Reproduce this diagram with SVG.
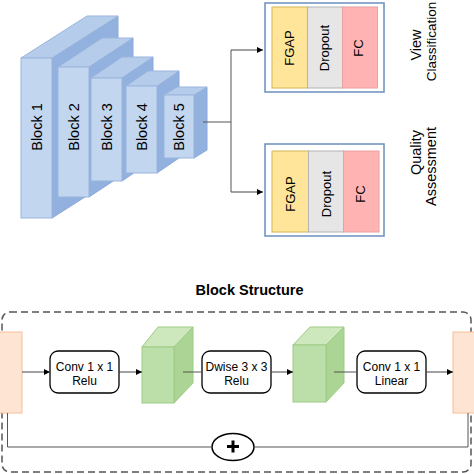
<svg xmlns="http://www.w3.org/2000/svg" width="474" height="474" viewBox="0 0 474 474">
<style>
text{font-family:"Liberation Sans",Arial,sans-serif;fill:#000}
.bf{fill:#c3d6ef;stroke:#9ab5dd;stroke-width:1}
.bt{fill:#b6cceb;stroke:#9ab5dd;stroke-width:1}
.bs{fill:#93b1df;stroke:#8aa9d8;stroke-width:1}
.bl{font-size:14.5px}
.gf{fill:#bcdfa9;stroke:#9ccc84;stroke-width:1}
.gt{fill:#cde8bd;stroke:#9ccc84;stroke-width:1}
.gs{fill:#acd494;stroke:#9ccc84;stroke-width:1}
.outer{fill:#fff;stroke:#6c8ebf;stroke-width:1.5}
.fgap{fill:#ffe599;stroke:#d6b656;stroke-width:1}
.drop{fill:#e6e6e6;stroke:#b3b3b3;stroke-width:1}
.fc{fill:#ffb3b3;stroke:#e8a0a0;stroke-width:1}
.cell{font-size:13px}
.lab{font-size:14.5px}
.op{fill:#fff;stroke:#000;stroke-width:1.3}
.opt{font-size:12px}
.orange{fill:#fde4d3;stroke:#f6c09a;stroke-width:1}
.ln{fill:none;stroke:#555;stroke-width:1}
.arr{fill:none;stroke:#444;stroke-width:1;marker-end:url(#ah)}
</style>
<defs>
<marker id="ah" viewBox="0 0 10 10" refX="10" refY="5" markerWidth="6" markerHeight="6" markerUnits="userSpaceOnUse" orient="auto">
<path d="M0,0 L10,5 L0,10 z" fill="#000"/>
</marker>
</defs>

<g id="block1">
<polygon class="bs" points="52,58 118,16 118,176 52,218"/>
<polygon class="bt" points="21,58 87,16 118,16 52,58"/>
<rect class="bf" x="21" y="58" width="31" height="160"/>
<text class="bl" text-anchor="middle" transform="translate(41.5,127) rotate(-90)">Block 1</text>
</g>
<g id="block2">
<polygon class="bs" points="89,67 133,38 133,168 89,197"/>
<polygon class="bt" points="58,67 102,38 133,38 89,67"/>
<rect class="bf" x="58" y="67" width="31" height="130"/>
<text class="bl" text-anchor="middle" transform="translate(78.5,127) rotate(-90)">Block 2</text>
</g>
<g id="block3">
<polygon class="bs" points="122,78 153,57 153,160 122,181"/>
<polygon class="bt" points="91,78 122,57 153,57 122,78"/>
<rect class="bf" x="91" y="78" width="31" height="103"/>
<text class="bl" text-anchor="middle" transform="translate(111.5,127) rotate(-90)">Block 3</text>
</g>
<g id="block4">
<polygon class="bs" points="157,86 179,71 179,158 157,173"/>
<polygon class="bt" points="126,86 148,71 179,71 157,86"/>
<rect class="bf" x="126" y="86" width="31" height="87"/>
<text class="bl" text-anchor="middle" transform="translate(146.5,127) rotate(-90)">Block 4</text>
</g>
<g id="block5">
<polygon class="bs" points="194,95 207,87 207,150 194,158"/>
<polygon class="bt" points="164,95 177,87 207,87 194,95"/>
<rect class="bf" x="164" y="95" width="30" height="63"/>
<text class="bl" text-anchor="middle" transform="translate(184,127) rotate(-90)">Block 5</text>
</g>

<g id="head-view">
<rect class="outer" x="265" y="3" width="119" height="89"/>
<rect class="fgap" x="272" y="7" width="35.5" height="81"/>
<rect class="drop" x="307.5" y="7" width="35" height="81"/>
<rect class="fc" x="342.5" y="7" width="35" height="81"/>
<text class="cell" text-anchor="middle" transform="translate(294,48) rotate(-90)">FGAP</text>
<text class="cell" text-anchor="middle" transform="translate(329,48) rotate(-90)">Dropout</text>
<text class="cell" text-anchor="middle" transform="translate(363,48) rotate(-90)">FC</text>
</g>
<g id="head-quality">
<rect class="outer" x="265" y="144" width="119" height="92"/>
<rect class="fgap" x="272" y="151" width="36.5" height="81"/>
<rect class="drop" x="308.5" y="151" width="35" height="81"/>
<rect class="fc" x="343.5" y="151" width="35.5" height="81"/>
<text class="cell" text-anchor="middle" transform="translate(295,194) rotate(-90)">FGAP</text>
<text class="cell" text-anchor="middle" transform="translate(330.5,194) rotate(-90)">Dropout</text>
<text class="cell" text-anchor="middle" transform="translate(365,194) rotate(-90)">FC</text>
</g>
<g id="label-view">
<text class="lab" text-anchor="middle" transform="translate(421,45) rotate(-90)">View</text>
<text class="lab" text-anchor="middle" font-size="13.5" style="font-size:13.5px" transform="translate(436,41.5) rotate(-90)">Classification</text>
</g>
<g id="label-quality">
<text class="lab" text-anchor="middle" transform="translate(421,152.5) rotate(-90)">Quality</text>
<text class="lab" text-anchor="middle" transform="translate(436,166.5) rotate(-90)">Assessment</text>
</g>

<g id="title">
<text x="249.5" y="295" text-anchor="middle" font-size="14.5" font-weight="bold">Block Structure</text>
</g>
<g id="frame">
<rect x="2" y="312" width="469" height="160" rx="8" fill="none" stroke="#555" stroke-width="1.5" stroke-dasharray="7,4"/>
</g>

<g id="input">
<rect class="orange" x="-5" y="332" width="27" height="81"/>
</g>
<g id="conv1">
<rect class="op" x="50" y="351" width="69" height="42" rx="8"/>
<text class="opt" x="84.5" y="371" text-anchor="middle">Conv 1 x 1</text>
<text class="opt" x="84.5" y="384.5" text-anchor="middle">Relu</text>
</g>
<g id="feat1">
<polygon class="gs" points="174,347 193,327 193,383 174,403"/>
<polygon class="gt" points="142,347 158,327 193,327 174,347"/>
<rect class="gf" x="142" y="347" width="32" height="56"/>
</g>
<g id="dwise">
<rect class="op" x="202" y="351" width="69" height="42" rx="8"/>
<text class="opt" x="236.5" y="371" text-anchor="middle">Dwise 3 x 3</text>
<text class="opt" x="236.5" y="384.5" text-anchor="middle">Relu</text>
</g>
<g id="feat2">
<polygon class="gs" points="326,345 344,327 344,383 326,402"/>
<polygon class="gt" points="293,345 310,327 344,327 326,345"/>
<rect class="gf" x="293" y="345" width="33" height="57"/>
</g>
<g id="conv2">
<rect class="op" x="357" y="351" width="69" height="42" rx="8"/>
<text class="opt" x="391.5" y="371" text-anchor="middle">Conv 1 x 1</text>
<text class="opt" x="391.5" y="384.5" text-anchor="middle">Linear</text>
</g>
<g id="output">
<rect class="orange" x="453" y="332" width="30" height="81"/>
</g>
<g id="add">
<ellipse cx="233" cy="447" rx="21" ry="13.5" fill="#fff" stroke="#000" stroke-width="1.5"/>
<path d="M227,446.5 H239 M233,440.5 V452.5" stroke="#000" stroke-width="3" fill="none"/>
</g>

<g id="connectors">
<path class="ln" d="M203,122 H231 M231,50 V192"/>
<path class="arr" d="M231,50 H263"/>
<path class="arr" d="M231,192 H263"/>
<path class="arr" d="M22,372 H50"/>
<path class="arr" d="M119,372 H142"/>
<path class="ln" d="M183,372 H202"/>
<path class="arr" d="M271,372 H293"/>
<path class="ln" d="M334,372 H357"/>
<path class="arr" d="M426,372 H453"/>
<path class="ln" d="M7.5,413 V447 H212"/>
<path class="ln" d="M254,447 H468 V413"/>
</g>
</svg>
